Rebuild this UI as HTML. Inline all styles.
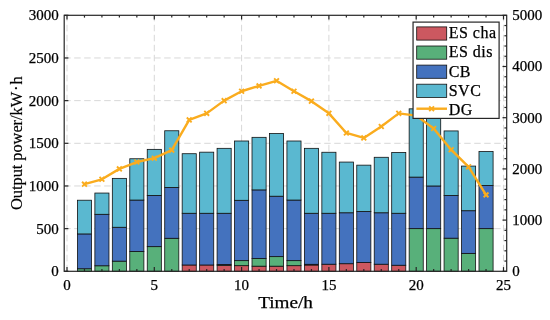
<!DOCTYPE html>
<html><head><meta charset="utf-8"><title>chart</title>
<style>html,body{margin:0;padding:0;background:#fff}svg{display:block}text{font-family:"Liberation Serif",serif;fill:#000}</style></head><body>
<svg width="550" height="320" viewBox="0 0 550 320">
<rect width="550" height="320" fill="#fff"/>
<g stroke="#d8d8d8" stroke-width="1" stroke-dasharray="6.5 3.5" fill="none">
<line x1="67.00" y1="271.3" x2="67.00" y2="15.3"/>
<line x1="154.30" y1="271.3" x2="154.30" y2="15.3"/>
<line x1="241.60" y1="271.3" x2="241.60" y2="15.3"/>
<line x1="328.90" y1="271.3" x2="328.90" y2="15.3"/>
<line x1="416.20" y1="271.3" x2="416.20" y2="15.3"/>
<line x1="503.50" y1="271.3" x2="503.50" y2="15.3"/>
<line x1="64.2" y1="228.63" x2="506.7" y2="228.63"/>
<line x1="64.2" y1="185.97" x2="506.7" y2="185.97"/>
<line x1="64.2" y1="143.30" x2="506.7" y2="143.30"/>
<line x1="64.2" y1="100.63" x2="506.7" y2="100.63"/>
<line x1="64.2" y1="57.97" x2="506.7" y2="57.97"/>
</g>
<g stroke="#111" stroke-width="0.8">
<rect x="77.41" y="268.74" width="14.1" height="2.56" fill="#58B07A"/>
<rect x="77.41" y="233.92" width="14.1" height="34.82" fill="#4472BE"/>
<rect x="77.41" y="200.22" width="14.1" height="33.71" fill="#5AB8D0"/>
<rect x="94.87" y="265.75" width="14.1" height="5.55" fill="#58B07A"/>
<rect x="94.87" y="214.30" width="14.1" height="51.46" fill="#4472BE"/>
<rect x="94.87" y="193.05" width="14.1" height="21.25" fill="#5AB8D0"/>
<rect x="112.33" y="261.15" width="14.1" height="10.15" fill="#58B07A"/>
<rect x="112.33" y="227.27" width="14.1" height="33.88" fill="#4472BE"/>
<rect x="112.33" y="178.37" width="14.1" height="48.90" fill="#5AB8D0"/>
<rect x="129.79" y="251.50" width="14.1" height="19.80" fill="#58B07A"/>
<rect x="129.79" y="200.05" width="14.1" height="51.46" fill="#4472BE"/>
<rect x="129.79" y="158.75" width="14.1" height="41.30" fill="#5AB8D0"/>
<rect x="147.25" y="246.64" width="14.1" height="24.66" fill="#58B07A"/>
<rect x="147.25" y="195.44" width="14.1" height="51.20" fill="#4472BE"/>
<rect x="147.25" y="149.36" width="14.1" height="46.08" fill="#5AB8D0"/>
<rect x="164.71" y="238.28" width="14.1" height="33.02" fill="#58B07A"/>
<rect x="164.71" y="187.42" width="14.1" height="50.86" fill="#4472BE"/>
<rect x="164.71" y="130.76" width="14.1" height="56.66" fill="#5AB8D0"/>
<rect x="182.17" y="264.99" width="14.1" height="6.31" fill="#CC5860"/>
<rect x="182.17" y="213.27" width="14.1" height="51.71" fill="#4472BE"/>
<rect x="182.17" y="153.71" width="14.1" height="59.56" fill="#5AB8D0"/>
<rect x="199.63" y="264.99" width="14.1" height="6.31" fill="#CC5860"/>
<rect x="199.63" y="213.27" width="14.1" height="51.71" fill="#4472BE"/>
<rect x="199.63" y="152.17" width="14.1" height="61.10" fill="#5AB8D0"/>
<rect x="217.09" y="265.33" width="14.1" height="5.97" fill="#CC5860"/>
<rect x="217.09" y="264.47" width="14.1" height="0.85" fill="#58B07A"/>
<rect x="217.09" y="213.27" width="14.1" height="51.20" fill="#4472BE"/>
<rect x="217.09" y="148.33" width="14.1" height="64.94" fill="#5AB8D0"/>
<rect x="234.55" y="265.67" width="14.1" height="5.63" fill="#CC5860"/>
<rect x="234.55" y="260.63" width="14.1" height="5.03" fill="#58B07A"/>
<rect x="234.55" y="200.30" width="14.1" height="60.33" fill="#4472BE"/>
<rect x="234.55" y="141.00" width="14.1" height="59.31" fill="#5AB8D0"/>
<rect x="252.01" y="266.18" width="14.1" height="5.12" fill="#CC5860"/>
<rect x="252.01" y="258.59" width="14.1" height="7.59" fill="#58B07A"/>
<rect x="252.01" y="189.89" width="14.1" height="68.69" fill="#4472BE"/>
<rect x="252.01" y="137.33" width="14.1" height="52.57" fill="#5AB8D0"/>
<rect x="269.47" y="266.18" width="14.1" height="5.12" fill="#CC5860"/>
<rect x="269.47" y="256.62" width="14.1" height="9.56" fill="#58B07A"/>
<rect x="269.47" y="196.21" width="14.1" height="60.42" fill="#4472BE"/>
<rect x="269.47" y="133.49" width="14.1" height="62.72" fill="#5AB8D0"/>
<rect x="286.93" y="265.67" width="14.1" height="5.63" fill="#CC5860"/>
<rect x="286.93" y="260.63" width="14.1" height="5.03" fill="#58B07A"/>
<rect x="286.93" y="200.05" width="14.1" height="60.59" fill="#4472BE"/>
<rect x="286.93" y="141.00" width="14.1" height="59.05" fill="#5AB8D0"/>
<rect x="304.39" y="264.99" width="14.1" height="6.31" fill="#CC5860"/>
<rect x="304.39" y="264.30" width="14.1" height="0.68" fill="#58B07A"/>
<rect x="304.39" y="213.27" width="14.1" height="51.03" fill="#4472BE"/>
<rect x="304.39" y="148.33" width="14.1" height="64.94" fill="#5AB8D0"/>
<rect x="321.85" y="264.22" width="14.1" height="7.08" fill="#CC5860"/>
<rect x="321.85" y="213.27" width="14.1" height="50.94" fill="#4472BE"/>
<rect x="321.85" y="152.26" width="14.1" height="61.01" fill="#5AB8D0"/>
<rect x="339.31" y="263.71" width="14.1" height="7.59" fill="#CC5860"/>
<rect x="339.31" y="212.76" width="14.1" height="50.94" fill="#4472BE"/>
<rect x="339.31" y="162.07" width="14.1" height="50.69" fill="#5AB8D0"/>
<rect x="356.77" y="262.43" width="14.1" height="8.87" fill="#CC5860"/>
<rect x="356.77" y="211.48" width="14.1" height="50.94" fill="#4472BE"/>
<rect x="356.77" y="165.15" width="14.1" height="46.34" fill="#5AB8D0"/>
<rect x="374.23" y="264.22" width="14.1" height="7.08" fill="#CC5860"/>
<rect x="374.23" y="212.76" width="14.1" height="51.46" fill="#4472BE"/>
<rect x="374.23" y="157.29" width="14.1" height="55.47" fill="#5AB8D0"/>
<rect x="391.69" y="265.24" width="14.1" height="6.06" fill="#CC5860"/>
<rect x="391.69" y="213.27" width="14.1" height="51.97" fill="#4472BE"/>
<rect x="391.69" y="152.43" width="14.1" height="60.84" fill="#5AB8D0"/>
<rect x="409.15" y="228.63" width="14.1" height="42.67" fill="#58B07A"/>
<rect x="409.15" y="177.09" width="14.1" height="51.54" fill="#4472BE"/>
<rect x="409.15" y="108.83" width="14.1" height="68.27" fill="#5AB8D0"/>
<rect x="426.61" y="228.63" width="14.1" height="42.67" fill="#58B07A"/>
<rect x="426.61" y="185.97" width="14.1" height="42.67" fill="#4472BE"/>
<rect x="426.61" y="117.70" width="14.1" height="68.27" fill="#5AB8D0"/>
<rect x="444.07" y="238.19" width="14.1" height="33.11" fill="#58B07A"/>
<rect x="444.07" y="195.44" width="14.1" height="42.75" fill="#4472BE"/>
<rect x="444.07" y="130.93" width="14.1" height="64.51" fill="#5AB8D0"/>
<rect x="461.53" y="253.38" width="14.1" height="17.92" fill="#58B07A"/>
<rect x="461.53" y="210.71" width="14.1" height="42.67" fill="#4472BE"/>
<rect x="461.53" y="166.08" width="14.1" height="44.63" fill="#5AB8D0"/>
<rect x="478.99" y="228.63" width="14.1" height="42.67" fill="#58B07A"/>
<rect x="478.99" y="185.45" width="14.1" height="43.18" fill="#4472BE"/>
<rect x="478.99" y="151.58" width="14.1" height="33.88" fill="#5AB8D0"/>
</g>
<polyline points="84.46,184.16 101.92,179.29 119.38,168.90 136.84,162.04 154.30,158.20 171.76,150.11 189.22,119.90 206.68,113.35 224.14,100.65 241.60,91.23 259.06,85.90 276.52,80.78 293.98,91.23 311.44,101.16 328.90,113.35 346.36,132.96 363.82,137.92 381.28,126.51 398.74,113.35 416.20,115.65 433.66,128.45 451.12,149.70 468.58,166.85 486.04,194.86" fill="none" stroke="#FAAC1E" stroke-width="2.4" stroke-linejoin="round"/>
<path d="M82.06 181.76L86.86 186.56M82.06 186.56L86.86 181.76M99.52 176.89L104.32 181.69M99.52 181.69L104.32 176.89M116.98 166.50L121.78 171.30M116.98 171.30L121.78 166.50M134.44 159.64L139.24 164.44M134.44 164.44L139.24 159.64M151.90 155.80L156.70 160.60M151.90 160.60L156.70 155.80M169.36 147.71L174.16 152.51M169.36 152.51L174.16 147.71M186.82 117.50L191.62 122.30M186.82 122.30L191.62 117.50M204.28 110.95L209.08 115.75M204.28 115.75L209.08 110.95M221.74 98.25L226.54 103.05M221.74 103.05L226.54 98.25M239.20 88.83L244.00 93.63M239.20 93.63L244.00 88.83M256.66 83.50L261.46 88.30M256.66 88.30L261.46 83.50M274.12 78.38L278.92 83.18M274.12 83.18L278.92 78.38M291.58 88.83L296.38 93.63M291.58 93.63L296.38 88.83M309.04 98.76L313.84 103.56M309.04 103.56L313.84 98.76M326.50 110.95L331.30 115.75M326.50 115.75L331.30 110.95M343.96 130.56L348.76 135.36M343.96 135.36L348.76 130.56M361.42 135.52L366.22 140.32M361.42 140.32L366.22 135.52M378.88 124.11L383.68 128.91M378.88 128.91L383.68 124.11M396.34 110.95L401.14 115.75M396.34 115.75L401.14 110.95M413.80 113.25L418.60 118.05M413.80 118.05L418.60 113.25M431.26 126.05L436.06 130.85M431.26 130.85L436.06 126.05M448.72 147.30L453.52 152.10M448.72 152.10L453.52 147.30M466.18 164.45L470.98 169.25M466.18 169.25L470.98 164.45M483.64 192.46L488.44 197.26M483.64 197.26L488.44 192.46" stroke="#FAAC1E" stroke-width="1.9" fill="none"/>
<g stroke="#262626" stroke-width="1.2" fill="none">
<rect x="64.2" y="15.3" width="442.5" height="256.0"/>
<line x1="67.00" y1="271.3" x2="67.00" y2="267.1"/>
<line x1="67.00" y1="15.3" x2="67.00" y2="19.5"/>
<line x1="84.46" y1="271.3" x2="84.46" y2="269.0"/>
<line x1="84.46" y1="15.3" x2="84.46" y2="17.6"/>
<line x1="101.92" y1="271.3" x2="101.92" y2="269.0"/>
<line x1="101.92" y1="15.3" x2="101.92" y2="17.6"/>
<line x1="119.38" y1="271.3" x2="119.38" y2="269.0"/>
<line x1="119.38" y1="15.3" x2="119.38" y2="17.6"/>
<line x1="136.84" y1="271.3" x2="136.84" y2="269.0"/>
<line x1="136.84" y1="15.3" x2="136.84" y2="17.6"/>
<line x1="154.30" y1="271.3" x2="154.30" y2="267.1"/>
<line x1="154.30" y1="15.3" x2="154.30" y2="19.5"/>
<line x1="171.76" y1="271.3" x2="171.76" y2="269.0"/>
<line x1="171.76" y1="15.3" x2="171.76" y2="17.6"/>
<line x1="189.22" y1="271.3" x2="189.22" y2="269.0"/>
<line x1="189.22" y1="15.3" x2="189.22" y2="17.6"/>
<line x1="206.68" y1="271.3" x2="206.68" y2="269.0"/>
<line x1="206.68" y1="15.3" x2="206.68" y2="17.6"/>
<line x1="224.14" y1="271.3" x2="224.14" y2="269.0"/>
<line x1="224.14" y1="15.3" x2="224.14" y2="17.6"/>
<line x1="241.60" y1="271.3" x2="241.60" y2="267.1"/>
<line x1="241.60" y1="15.3" x2="241.60" y2="19.5"/>
<line x1="259.06" y1="271.3" x2="259.06" y2="269.0"/>
<line x1="259.06" y1="15.3" x2="259.06" y2="17.6"/>
<line x1="276.52" y1="271.3" x2="276.52" y2="269.0"/>
<line x1="276.52" y1="15.3" x2="276.52" y2="17.6"/>
<line x1="293.98" y1="271.3" x2="293.98" y2="269.0"/>
<line x1="293.98" y1="15.3" x2="293.98" y2="17.6"/>
<line x1="311.44" y1="271.3" x2="311.44" y2="269.0"/>
<line x1="311.44" y1="15.3" x2="311.44" y2="17.6"/>
<line x1="328.90" y1="271.3" x2="328.90" y2="267.1"/>
<line x1="328.90" y1="15.3" x2="328.90" y2="19.5"/>
<line x1="346.36" y1="271.3" x2="346.36" y2="269.0"/>
<line x1="346.36" y1="15.3" x2="346.36" y2="17.6"/>
<line x1="363.82" y1="271.3" x2="363.82" y2="269.0"/>
<line x1="363.82" y1="15.3" x2="363.82" y2="17.6"/>
<line x1="381.28" y1="271.3" x2="381.28" y2="269.0"/>
<line x1="381.28" y1="15.3" x2="381.28" y2="17.6"/>
<line x1="398.74" y1="271.3" x2="398.74" y2="269.0"/>
<line x1="398.74" y1="15.3" x2="398.74" y2="17.6"/>
<line x1="416.20" y1="271.3" x2="416.20" y2="267.1"/>
<line x1="416.20" y1="15.3" x2="416.20" y2="19.5"/>
<line x1="433.66" y1="271.3" x2="433.66" y2="269.0"/>
<line x1="433.66" y1="15.3" x2="433.66" y2="17.6"/>
<line x1="451.12" y1="271.3" x2="451.12" y2="269.0"/>
<line x1="451.12" y1="15.3" x2="451.12" y2="17.6"/>
<line x1="468.58" y1="271.3" x2="468.58" y2="269.0"/>
<line x1="468.58" y1="15.3" x2="468.58" y2="17.6"/>
<line x1="486.04" y1="271.3" x2="486.04" y2="269.0"/>
<line x1="486.04" y1="15.3" x2="486.04" y2="17.6"/>
<line x1="503.50" y1="271.3" x2="503.50" y2="267.1"/>
<line x1="503.50" y1="15.3" x2="503.50" y2="19.5"/>
<line x1="64.2" y1="271.30" x2="68.4" y2="271.30"/>
<line x1="64.2" y1="228.63" x2="68.4" y2="228.63"/>
<line x1="64.2" y1="185.97" x2="68.4" y2="185.97"/>
<line x1="64.2" y1="143.30" x2="68.4" y2="143.30"/>
<line x1="64.2" y1="100.63" x2="68.4" y2="100.63"/>
<line x1="64.2" y1="57.97" x2="68.4" y2="57.97"/>
<line x1="64.2" y1="15.30" x2="68.4" y2="15.30"/>
<line x1="506.7" y1="271.30" x2="502.5" y2="271.30"/>
<line x1="506.7" y1="261.06" x2="504.4" y2="261.06"/>
<line x1="506.7" y1="250.82" x2="504.4" y2="250.82"/>
<line x1="506.7" y1="240.58" x2="504.4" y2="240.58"/>
<line x1="506.7" y1="230.34" x2="504.4" y2="230.34"/>
<line x1="506.7" y1="220.10" x2="502.5" y2="220.10"/>
<line x1="506.7" y1="209.86" x2="504.4" y2="209.86"/>
<line x1="506.7" y1="199.62" x2="504.4" y2="199.62"/>
<line x1="506.7" y1="189.38" x2="504.4" y2="189.38"/>
<line x1="506.7" y1="179.14" x2="504.4" y2="179.14"/>
<line x1="506.7" y1="168.90" x2="502.5" y2="168.90"/>
<line x1="506.7" y1="158.66" x2="504.4" y2="158.66"/>
<line x1="506.7" y1="148.42" x2="504.4" y2="148.42"/>
<line x1="506.7" y1="138.18" x2="504.4" y2="138.18"/>
<line x1="506.7" y1="127.94" x2="504.4" y2="127.94"/>
<line x1="506.7" y1="117.70" x2="502.5" y2="117.70"/>
<line x1="506.7" y1="107.46" x2="504.4" y2="107.46"/>
<line x1="506.7" y1="97.22" x2="504.4" y2="97.22"/>
<line x1="506.7" y1="86.98" x2="504.4" y2="86.98"/>
<line x1="506.7" y1="76.74" x2="504.4" y2="76.74"/>
<line x1="506.7" y1="66.50" x2="502.5" y2="66.50"/>
<line x1="506.7" y1="56.26" x2="504.4" y2="56.26"/>
<line x1="506.7" y1="46.02" x2="504.4" y2="46.02"/>
<line x1="506.7" y1="35.78" x2="504.4" y2="35.78"/>
<line x1="506.7" y1="25.54" x2="504.4" y2="25.54"/>
<line x1="506.7" y1="15.30" x2="502.5" y2="15.30"/>
</g>
<g font-size="15" stroke="#000" stroke-width="0.25">
<text x="58.8" y="276.25" text-anchor="end">0</text>
<text x="58.8" y="233.58" text-anchor="end">500</text>
<text x="58.8" y="190.92" text-anchor="end">1000</text>
<text x="58.8" y="148.25" text-anchor="end">1500</text>
<text x="58.8" y="105.58" text-anchor="end">2000</text>
<text x="58.8" y="62.92" text-anchor="end">2500</text>
<text x="58.8" y="20.25" text-anchor="end">3000</text>
<text x="512.3" y="276.25">0</text>
<text x="512.3" y="225.05">1000</text>
<text x="512.3" y="173.85">2000</text>
<text x="512.3" y="122.65">3000</text>
<text x="512.3" y="71.45">4000</text>
<text x="512.3" y="20.25">5000</text>
<text x="67.00" y="290.4" text-anchor="middle">0</text>
<text x="154.30" y="290.4" text-anchor="middle">5</text>
<text x="241.60" y="290.4" text-anchor="middle">10</text>
<text x="328.90" y="290.4" text-anchor="middle">15</text>
<text x="416.20" y="290.4" text-anchor="middle">20</text>
<text x="503.50" y="290.4" text-anchor="middle">25</text>
</g>
<text x="258.2" y="307.7" font-size="16" textLength="54.7" lengthAdjust="spacingAndGlyphs" stroke="#000" stroke-width="0.25">Time/h</text>
<text transform="translate(21.6 209.9) rotate(-90)" font-size="16.4" textLength="133.6" lengthAdjust="spacing" stroke="#000" stroke-width="0.2">Output power/kW<tspan dx="1">·</tspan><tspan dx="1">h</tspan></text>
<rect x="413.05" y="22.1" width="86.05" height="96.3" fill="#fff" stroke="#262626" stroke-width="1.2"/>
<rect x="416.7" y="26.90" width="30" height="13.2" fill="#CC5860" stroke="#111" stroke-width="0.8"/>
<text x="448.7" y="38.30" font-size="16" letter-spacing="0.5" stroke="#000" stroke-width="0.25">ES cha</text>
<rect x="416.7" y="46.00" width="30" height="13.2" fill="#58B07A" stroke="#111" stroke-width="0.8"/>
<text x="448.7" y="57.40" font-size="16" letter-spacing="0.5" stroke="#000" stroke-width="0.25">ES dis</text>
<rect x="416.7" y="65.10" width="30" height="13.2" fill="#4472BE" stroke="#111" stroke-width="0.8"/>
<text x="448.7" y="76.50" font-size="16" letter-spacing="0.5" stroke="#000" stroke-width="0.25">CB</text>
<rect x="416.7" y="84.20" width="30" height="13.2" fill="#5AB8D0" stroke="#111" stroke-width="0.8"/>
<text x="448.7" y="95.60" font-size="16" letter-spacing="0.5" stroke="#000" stroke-width="0.25">SVC</text>
<line x1="416.4" y1="108.7" x2="447" y2="108.7" stroke="#FAAC1E" stroke-width="2.4"/>
<path d="M429.20000000000005 106.3L434.0 111.10000000000001M429.20000000000005 111.10000000000001L434.0 106.3" stroke="#FAAC1E" stroke-width="1.9" fill="none"/>
<text x="448.7" y="114.70" font-size="16" letter-spacing="0.5" stroke="#000" stroke-width="0.25">DG</text>
</svg></body></html>
